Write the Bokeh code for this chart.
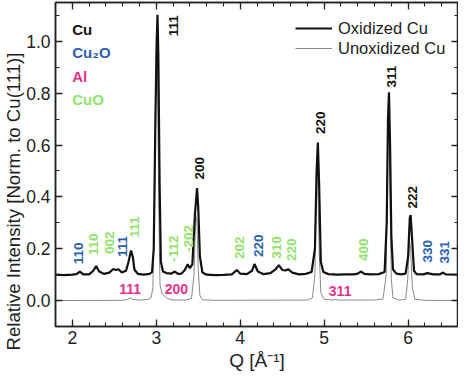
import math
from bokeh.plotting import figure
from bokeh.models import (ColumnDataSource, LinearAxis, SingleIntervalTicker, Title,
                          Legend, LegendItem, CustomJSTickFormatter)
from bokeh.core.properties import value
from bokeh.embed import file_html
from bokeh.resources import INLINE

# ---------------- data ----------------
q_ox = [1.80, 1.90, 2.00, 2.05, 2.09, 2.13, 2.20, 2.25, 2.285, 2.32, 2.38, 2.44, 2.49, 2.52,
        2.55, 2.59, 2.64, 2.67, 2.70, 2.72, 2.74, 2.78, 2.85, 2.92, 2.95, 2.97, 2.99, 3.005,
        3.015, 3.025, 3.04, 3.055, 3.08, 3.12, 3.18, 3.22, 3.26, 3.30, 3.34, 3.375, 3.40,
        3.43, 3.46, 3.486, 3.50, 3.52, 3.55, 3.60, 3.70, 3.80, 3.90, 3.96, 4.00, 4.08, 4.14,
        4.17, 4.21, 4.28, 4.36, 4.42, 4.46, 4.50, 4.54, 4.57, 4.62, 4.70, 4.78, 4.85, 4.89,
        4.91, 4.925, 4.94, 4.96, 4.99, 5.05, 5.15, 5.25, 5.35, 5.40, 5.44, 5.48, 5.55, 5.65,
        5.72, 5.745, 5.76, 5.772, 5.785, 5.80, 5.82, 5.86, 5.92, 5.97, 6.00, 6.02, 6.03,
        6.045, 6.07, 6.10, 6.18, 6.23, 6.30, 6.38, 6.41, 6.45, 6.60]
i_ox = [0.100, 0.098, 0.100, 0.102, 0.112, 0.101, 0.101, 0.115, 0.133, 0.112, 0.103, 0.108,
        0.122, 0.118, 0.121, 0.108, 0.115, 0.150, 0.193, 0.170, 0.120, 0.103, 0.100, 0.103,
        0.110, 0.200, 0.700, 1.000, 1.103, 0.950, 0.450, 0.150, 0.112, 0.106, 0.104, 0.112,
        0.103, 0.104, 0.118, 0.140, 0.125, 0.140, 0.330, 0.434, 0.360, 0.170, 0.108, 0.100,
        0.098, 0.099, 0.101, 0.118, 0.104, 0.102, 0.115, 0.141, 0.112, 0.102, 0.106, 0.120,
        0.137, 0.118, 0.116, 0.121, 0.108, 0.101, 0.103, 0.110, 0.200, 0.500, 0.610, 0.450,
        0.150, 0.110, 0.102, 0.100, 0.101, 0.101, 0.104, 0.112, 0.103, 0.101, 0.102, 0.110,
        0.300, 0.700, 0.804, 0.600, 0.250, 0.120, 0.104, 0.101, 0.104, 0.170, 0.320, 0.330,
        0.250, 0.115, 0.102, 0.101, 0.106, 0.101, 0.101, 0.108, 0.101, 0.100]

q_un = [1.80, 2.60, 2.66, 2.69, 2.72, 2.80, 2.90, 2.94, 2.96, 2.98, 2.995, 3.005, 3.015,
        3.03, 3.045, 3.07, 3.10, 3.13, 3.20, 3.35, 3.42, 3.45, 3.47, 3.485, 3.50, 3.52,
        3.55, 3.70, 4.80, 4.86, 4.89, 4.91, 4.922, 4.94, 4.96, 5.00, 5.10, 5.14, 5.16, 5.60,
        5.70, 5.74, 5.755, 5.768, 5.785, 5.80, 5.82, 5.90, 5.97, 5.995, 6.015, 6.03, 6.05,
        6.08, 6.20, 6.60]
i_un = [0.000, 0.001, 0.004, 0.011, 0.004, 0.002, 0.004, 0.012, 0.050, 0.400, 0.900, 1.000,
        0.850, 0.350, 0.060, 0.025, 0.018, 0.008, 0.002, 0.002, 0.008, 0.100, 0.330, 0.300,
        0.120, 0.020, 0.003, 0.001, 0.002, 0.010, 0.100, 0.500, 0.500, 0.200, 0.030, 0.005,
        0.002, 0.005, 0.002, 0.002, 0.006, 0.100, 0.600, 0.690, 0.400, 0.080, 0.010, 0.002,
        0.005, 0.080, 0.230, 0.200, 0.050, 0.005, 0.001, 0.000]

# peak index labels (vertical)
lab_text = ["111", "200", "220", "311", "222",
            "110", "111", "330", "331", "220",
            "110", "002", "111", "-112", "-202", "202", "310", "220", "400"]
lab_q = [3.20, 3.52, 4.953, 5.798, 6.047,
         2.073, 2.60, 6.232, 6.432, 4.216,
         2.257, 2.438, 2.745, 3.206, 3.379, 3.993, 4.427, 4.607, 5.464]
lab_y = [1.02, 0.467, 0.643, 0.822, 0.355,
         0.14, 0.168, 0.147, 0.143, 0.168,
         0.175, 0.18, 0.243, 0.15, 0.187, 0.16, 0.161, 0.153, 0.153]
lab_phase = ["Cu"] * 5 + ["Cu2O"] * 5 + ["CuO"] * 9

# Al labels (horizontal)
al_text = ["111", "200", "311"]
al_q = [2.69, 3.24, 5.19]
al_y = [0.044, 0.044, 0.037]

# phase key
key_text = ["Cu", "Cu\u2082O", "Al", "CuO"]
key_phase = ["Cu", "Cu2O", "Al", "CuO"]
key_y = [1.047, 0.957, 0.865, 0.776]

colors = {"Cu": "#111111", "Cu2O": "#2b5fb0", "Al": "#e8318a", "CuO": "#8fe36a"}

# ---------------- figure ----------------
p = figure(width=458, height=373, x_range=(1.8, 6.6), y_range=(-0.1, 1.15),
           output_backend="svg", toolbar_location=None,
           min_border_left=50, min_border_right=0, min_border_top=2, min_border_bottom=45)
p.xgrid.visible = False
p.ygrid.visible = False
p.outline_line_color = "#222222"
p.outline_line_width = 1.5
p.background_fill_color = "white"

FONT = "Liberation Sans"

def style_axis(ax, show_labels):
    ax.major_tick_in = 7
    ax.major_tick_out = 0
    ax.minor_tick_in = 4
    ax.minor_tick_out = 0
    ax.axis_line_color = "#222222"
    ax.axis_line_width = 1.5
    ax.major_tick_line_color = "#222222"
    ax.minor_tick_line_color = "#222222"
    ax.major_tick_line_width = 1.3
    ax.minor_tick_line_width = 1.1
    ax.major_label_text_font = FONT
    ax.major_label_text_color = "#222222"
    if show_labels:
        ax.major_label_text_font_size = "17.5px"
        ax.major_label_standoff = 4
    else:
        ax.major_label_text_font_size = "1px"
        ax.major_label_standoff = 0
        ax.formatter = CustomJSTickFormatter(code="return '';")

p.xaxis.ticker = SingleIntervalTicker(interval=1, num_minor_ticks=5)
p.yaxis.ticker = SingleIntervalTicker(interval=0.2, num_minor_ticks=2)
style_axis(p.xaxis[0], True)
style_axis(p.yaxis[0], True)
p.yaxis[0].major_label_standoff = 5
p.yaxis[0].formatter = CustomJSTickFormatter(code="return tick.toFixed(1);")
p.xaxis[0].axis_label = "Q [\u00c5\u207b\u00b9]"
p.xaxis[0].axis_label_text_font = FONT
p.xaxis[0].axis_label_text_font_style = "normal"
p.xaxis[0].axis_label_text_font_size = "19px"
p.xaxis[0].axis_label_text_color = "#222222"
p.xaxis[0].axis_label_standoff = 3

top = LinearAxis(ticker=SingleIntervalTicker(interval=1, num_minor_ticks=5))
style_axis(top, False)
p.add_layout(top, "above")
right = LinearAxis(ticker=SingleIntervalTicker(interval=0.2, num_minor_ticks=2))
style_axis(right, False)
p.add_layout(right, "right")

# y title on the left, starting a little below the frame bottom as in the reference
p.add_layout(Title(text="Relative Intensity [Norm. to Cu(111)]", align="left", offset=-24,
                   text_font=FONT, text_font_size="18.6px", text_font_style="normal",
                   text_color="#222222", standoff=0), "left")

# curves
r_un = p.line(q_un, i_un, line_color="#8a8a8a", line_width=1.0)
r_ox = p.line(q_ox, i_ox, line_color="#111111", line_width=2.2)

legend = Legend(items=[LegendItem(label="Oxidized Cu", renderers=[r_ox]),
                       LegendItem(label="Unoxidized Cu", renderers=[r_un])],
                location=(240, 268), orientation="vertical",
                label_text_font=FONT, label_text_font_size="16.5px",
                label_text_color="#222222",
                glyph_width=37, glyph_height=20, label_height=20, label_standoff=6,
                spacing=0, padding=0, margin=0,
                border_line_alpha=0, background_fill_alpha=0)
p.add_layout(legend)

# vertical peak labels
src = ColumnDataSource(dict(x=lab_q, y=lab_y, t=lab_text,
                            c=[colors[k] for k in lab_phase]))
p.text(x="x", y="y", text="t", source=src, angle=math.pi / 2,
       text_align="left", text_baseline="middle", text_color="c",
       text_font=value(FONT), text_font_style="bold", text_font_size="13.5px")

# Al labels
src_al = ColumnDataSource(dict(x=al_q, y=al_y, t=al_text))
p.text(x="x", y="y", text="t", source=src_al, text_align="center",
       text_baseline="middle", text_color=colors["Al"],
       text_font=value(FONT), text_font_style="bold", text_font_size="14px")

# phase key
src_key = ColumnDataSource(dict(x=[2.0] * 4, y=key_y, t=key_text,
                                c=[colors[k] for k in key_phase]))
p.text(x="x", y="y", text="t", source=src_key, text_align="left",
       text_baseline="middle", text_color="c",
       text_font=value(FONT), text_font_style="bold", text_font_size="15px")

open("out.html", "w").write(file_html(p, INLINE))
